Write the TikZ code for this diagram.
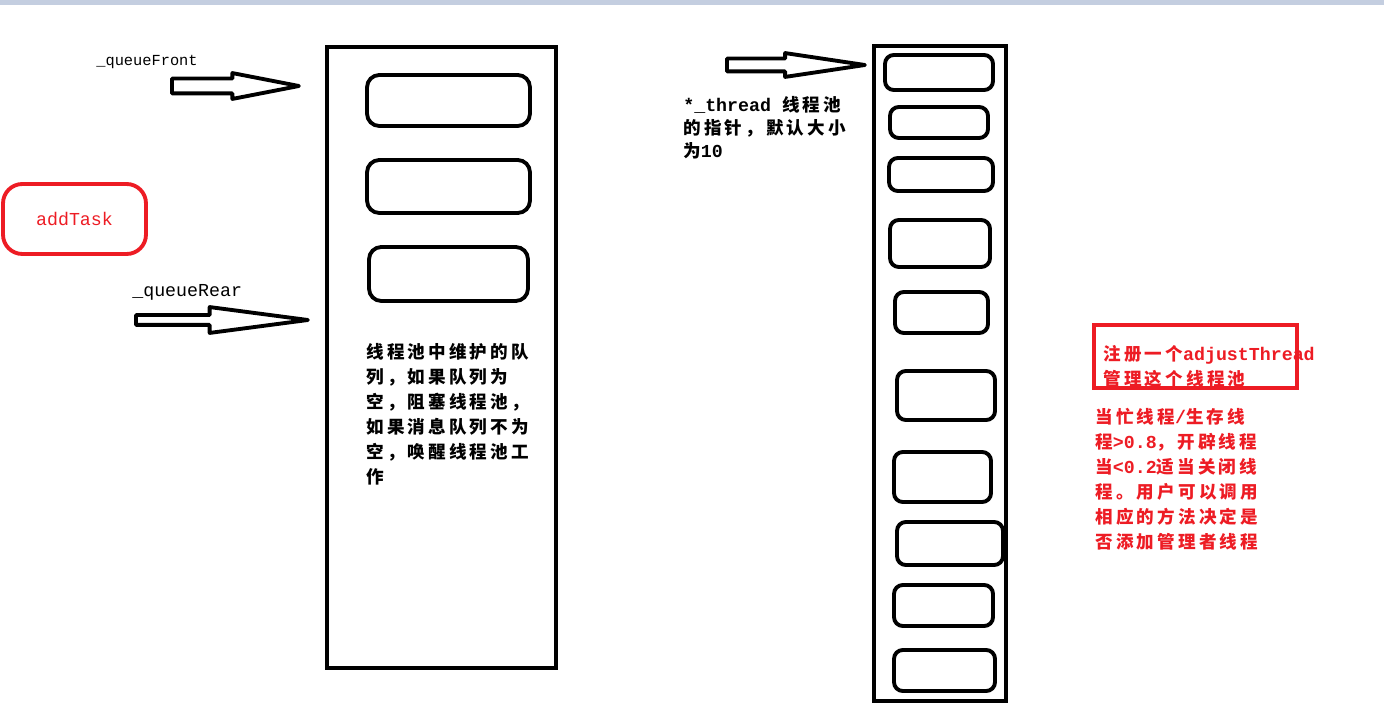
\documentclass[tikz,border=0pt]{standalone}
\usepackage{fontspec}
\setmainfont{Liberation Serif}
\newfontfamily\cjk[LetterSpace=18]{Noto Sans CJK SC}
\newfontfamily\mono[Scale=1.04]{Liberation Mono}
\usetikzlibrary{shapes.arrows, positioning}
\definecolor{paintred}{HTML}{ED1C24}
\definecolor{bandblue}{HTML}{C4CEE0}

\begin{document}
\begin{tikzpicture}[
    x=0.02cm, y=-0.02cm,
    pool/.style={
        rectangle, draw=black, line width=2.2pt,
        inner sep=0pt},
    qslot/.style={
        rectangle, rounded corners=7pt,
        draw=black, line width=2.2pt, inner sep=0pt},
    tslot/.style={
        rectangle, rounded corners=5pt,
        draw=black, line width=2.2pt, inner sep=0pt},
    ptr/.style={
        single arrow, draw=black, line width=2.2pt,
        line join=round, inner xsep=0pt, minimum width=0pt,
        anchor=tail},
    label/.style={
        font=\mono\fontsize{10pt}{12pt}\selectfont,
        anchor=base west, inner sep=0pt},
    memo/.style={
        font=\cjk\bfseries\fontsize{10pt}{14.2pt}\selectfont,
        align=left, anchor=north west, inner sep=0pt}]

\useasboundingbox (0,0) rectangle (1384,716);
\fill[bandblue] (0,0) rectangle (1384,5);

% task queue
\node[pool, minimum width=4.58cm, minimum height=12.42cm] (queue) at (441.5,357.5) {};
\node[qslot, minimum width=3.26cm, minimum height=1.02cm] (q1) at (448.5,100.5) {};
\node[qslot, minimum width=3.26cm, minimum height=1.06cm] (q2) at (448.5,186.5) {};
\node[qslot, minimum width=3.18cm, minimum height=1.08cm] (q3) at (448.5,274) {};
\node[memo] (queuenote) at (366,343)
    {线程池中维护的队\\列，如果队列为\\空，阻塞线程池，\\如果消息队列不为\\空，唤醒线程池工\\作};

% queue pointers
\node[label, font=\mono\fontsize{8.4pt}{10pt}\selectfont] (frontname) at (96,66) {\_queueFront};
\node[ptr, inner ysep=0.11cm, single arrow head extend=0.11cm,
      single arrow tip angle=22, minimum height=2.54cm] (frontptr) at (170,86) {};
\node[label] (rearname) at (132,297) {\_queueRear};
\node[ptr, inner ysep=0.06cm, single arrow head extend=0.16cm,
      single arrow tip angle=15, minimum height=3.44cm] (rearptr) at (134,320) {};

\node[rectangle, rounded corners=11pt, draw=paintred, line width=2.2pt,
      minimum width=2.86cm, minimum height=1.40cm, text=paintred,
      font=\mono\fontsize{10pt}{12pt}\selectfont] (addtask) at (74.5,219) {addTask};

% thread pool
\node[pool, minimum width=2.64cm, minimum height=13.10cm] (pool) at (940,373.5) {};
\node[tslot, minimum width=2.16cm, minimum height=0.70cm] (t1)  at (939,72.5) {};
\node[tslot, minimum width=1.96cm, minimum height=0.62cm] (t2)  at (939,122.5) {};
\node[tslot, minimum width=2.08cm, minimum height=0.66cm] (t3)  at (941,174.5) {};
\node[tslot, minimum width=2.00cm, minimum height=0.94cm] (t4)  at (940,243.5) {};
\node[tslot, minimum width=1.86cm, minimum height=0.82cm] (t5)  at (941.5,312.5) {};
\node[tslot, minimum width=1.96cm, minimum height=0.98cm] (t6)  at (946,395.5) {};
\node[tslot, minimum width=1.94cm, minimum height=1.00cm] (t7)  at (942.5,477) {};
\node[tslot, minimum width=2.12cm, minimum height=0.86cm] (t8)  at (950,543.5) {};
\node[tslot, minimum width=1.98cm, minimum height=0.82cm] (t9)  at (943.5,605.5) {};
\node[tslot, minimum width=2.02cm, minimum height=0.82cm] (t10) at (944.5,670.5) {};

\node[ptr, inner ysep=0.09cm, single arrow head extend=0.11cm,
      single arrow tip angle=17, minimum height=2.76cm] (threadptr) at (725,65) {};
\node[memo, font=\cjk\bfseries\fontsize{10pt}{13.1pt}\selectfont] (threadnote) at (683,96)
    {{\mono *\_thread }线程池\\的指针，默认大小\\为{\mono 10}};

% adjust thread
\node[rectangle, draw=paintred, line width=2.2pt, inner sep=0pt,
      minimum width=4.06cm, minimum height=1.26cm] (adjustbox) at (1195.5,356.5) {};
\node[memo, text=paintred] (adjustnote) at (1103,345)
    {注册一个{\mono adjustThread}\\管理这个线程池};
\node[memo, text=paintred] (rulenote) at (1095,408)
    {当忙线程{\mono /}生存线\\程{\mono >0.8}，开辟线程\\当{\mono <0.2}适当关闭线\\程。用户可以调用\\相应的方法决定是\\否添加管理者线程};

\end{tikzpicture}
\end{document}
